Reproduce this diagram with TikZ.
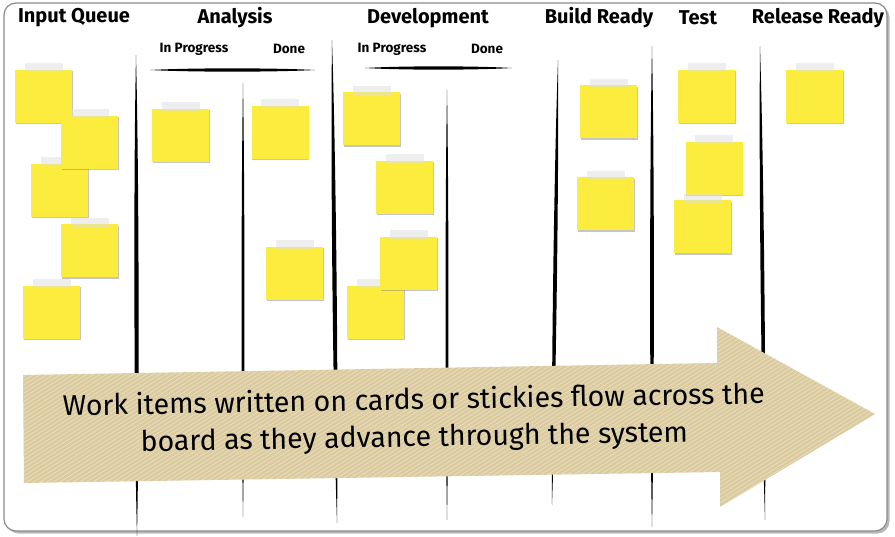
\documentclass[tikz,border=0pt]{standalone}
\usepackage{fontspec}
\setmainfont{Fira Sans}
\usetikzlibrary{shadows,patterns.meta,calc}

\definecolor{stickyyellow}{HTML}{FCEC3E}
\definecolor{arrowtan}{HTML}{DBCB9F}
\definecolor{boardgray}{HTML}{8A8A8A}

% tapered marker stroke: start, end, half-width offset
\newcommand\brushline[3]{%
  \fill (#1) .. controls ($(#1)!.25!(#2)+(#3)$) and ($(#1)!.75!(#2)+(#3)$) .. (#2)
        .. controls ($(#1)!.75!(#2)-(#3)$) and ($(#1)!.25!(#2)-(#3)$) .. (#1) -- cycle;}

\begin{document}
\begin{tikzpicture}[x=1pt, y=-1pt,
  head/.style={font=\fontsize{20}{20}\selectfont\bfseries, inner sep=0pt},
  subhead/.style={font=\fontsize{13.5}{13}\selectfont\bfseries, inner sep=0pt},
  sticky/.style={fill=stickyyellow, minimum width=57pt, minimum height=53pt, inner sep=0pt,
    drop shadow={shadow xshift=.6pt, shadow yshift=-1.6pt, opacity=.45}},
  tape/.style={fill=gray!25, opacity=.5},
  flowtext/.style={font=\fontsize{28.5}{37}\selectfont, align=center, inner sep=0pt, rotate=1}]
  \useasboundingbox (0,0) rectangle (895,536);

  % board
  \draw[rounded corners=12pt, line width=1.2pt, draw=boardgray, fill=white,
    drop shadow={shadow xshift=2.5pt, shadow yshift=-2.5pt, opacity=.55}] (4,3) rectangle (887,531);

  % column headers
  \node[head] (hinput) at (74,18) {Input Queue};
  \node[head] (hanalysis) at (235,18) {Analysis};
  \node[head] (hdev) at (428,18) {Development};
  \node[head] (hbuild) at (599,18) {Build Ready};
  \node[head] (htest) at (698,18) {Test};
  \node[head] (hrelease) at (818,18) {Release Ready};

  \node[subhead] (aprog) at (194,49) {In Progress};
  \node[subhead] (adone) at (289,49) {Done};
  \node[subhead] (dprog) at (392,49) {In Progress};
  \node[subhead] (ddone) at (487,49) {Done};

  % column lines
  \brushline{150,70}{315,70}{0,2.2}
  \brushline{365,68}{512,68}{0,2.2}
  \brushline{136,55}{137,536}{2.8,0}
  \brushline{243,83}{243,517}{1.9,0}
  \brushline{332,40}{337,523}{2.8,0}
  \brushline{447,90}{447,520}{1.9,0}
  \brushline{558,60}{552,505}{2.5,0}
  \brushline{652,46}{652,527}{2.5,0}
  \brushline{760,46}{765,520}{2.5,0}

  % stickies
  \foreach \n/\x/\y in {iq1/43.5/96, iq3/59.5/190, iq2/89.5/142, iq4/89.5/250.5, iq5/51.5/312,
      ap1/180.5/135, ad1/280/132, ad2/294.5/273,
      dp1/371.5/118.5, dp2/404.5/187, dp4/375.5/312, dp3/408.5/263,
      br1/608.5/111.5, br2/605.5/203.5,
      ts1/706.5/96, ts2/714/168, ts3/702.5/226.5, rr1/814.5/96} {
    \node[sticky] (\n) at (\x,\y) {};
    \fill[tape] ($(\n.north)+(-19,-6)$) rectangle ($(\n.north)+(19,3)$);
  }

  % flow arrow
  \coordinate (tail top) at (23,375);
  \coordinate (tail bot) at (24,483);
  \path[fill=arrowtan] (tail top) -- (717,363) -- (717,327) -- (875,414) -- (720,507) -- (720,472) -- (tail bot) -- cycle;
  \path[pattern={Lines[angle=32, distance=3.5pt, line width=.8pt]}, pattern color=white, opacity=.35]
    (tail top) -- (717,363) -- (717,327) -- (875,414) -- (720,507) -- (720,472) -- (tail bot) -- cycle;
  \node[flowtext] (flow) at (414,420) {Work items written on cards or stickies flow across the\\board as they advance through the system};
\end{tikzpicture}
\end{document}
